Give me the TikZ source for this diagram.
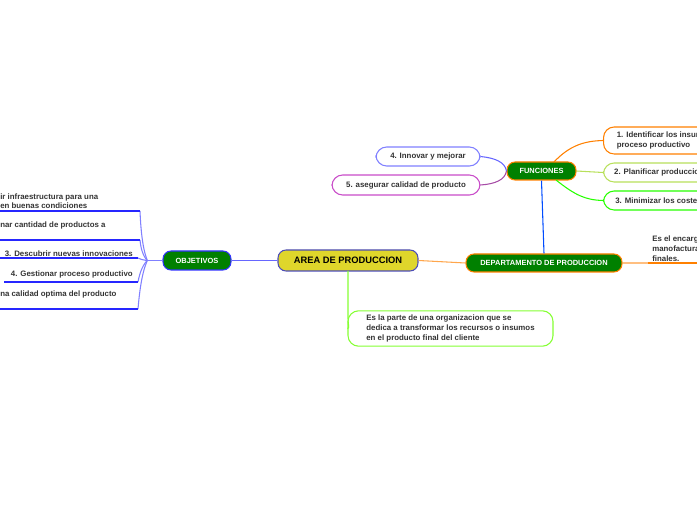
\documentclass[tikz,border=0pt]{standalone}
\usepackage{fontspec}
\setmainfont{Liberation Sans}
\begin{document}
\begin{tikzpicture}[x=0.75pt,y=-0.75pt,
  txt/.style={font=\bfseries\fontsize{5.9}{7.2}\selectfont,text=black!80},
  green/.style={rounded corners=6pt,fill=green!50!black,text=white,font=\bfseries\fontsize{5.6}{7}\selectfont,line width=0.8pt},
  wbox/.style={rounded corners=8pt,fill=white,line width=0.8pt},
  conn/.style={line width=0.8pt}]
\useasboundingbox (0,0) rectangle (697,520);
\begin{scope}
\clip (0,0) rectangle (697,520);
% central
\node[draw=blue!60!black!70,fill=yellow!85!black!95,rounded corners=6pt,minimum width=140*0.75pt,minimum height=21*0.75pt,font=\bfseries\fontsize{7}{8}\selectfont,line width=0.8pt] (area) at (348,260.5) {AREA DE PRODUCCION};
\node[green,draw=blue!80,minimum width=68*0.75pt,minimum height=19*0.75pt] (obj) at (197,260.5) {OBJETIVOS};
\node[green,draw=orange,minimum width=156*0.75pt,minimum height=18*0.75pt] (dep) at (544,263) {DEPARTAMENTO DE PRODUCCION};
\node[green,draw=orange,minimum width=69*0.75pt,minimum height=18*0.75pt] (fun) at (541.5,171) {FUNCIONES};
\draw[conn,blue!60] (area.west) -- (obj.east);
\draw[conn,orange!70] (area.east) -- (dep.west);
\draw[conn,blue!70!cyan] (fun.south) -- (dep.north);
% objetivos branches
\draw[conn,blue!50] (obj.west) -- (146,260.5);
\coordinate (o1) at (140,211); \coordinate (o2) at (140,240); \coordinate (o3) at (138,258);
\coordinate (o4) at (138,282); \coordinate (o5) at (138,309);
\foreach \c in {o1,o2,o3,o4,o5} \draw[conn,blue!50] (146,260.5) .. controls (150,260.5) and (142,260.5) .. (\c);
\draw[conn,blue!85] (0,211) -- (o1);
\draw[conn,blue!85] (0,240) -- (o2);
\draw[conn,blue!85] (0,258) -- (o3);
\draw[conn,blue!85] (4,282) -- (o4);
\draw[conn,blue!85] (0,309) -- (o5);
\node[txt,anchor=west,align=left,inner sep=0] (t1) at (0,201) {ir infraestructura para una\\ en buenas condiciones};
\node[txt,anchor=west,inner sep=0] (t2) at (0,225) {nar cantidad de productos a};
\node[txt,anchor=east,inner sep=0] (t3) at (133,254) {3. Descubrir nuevas innovaciones};
\node[txt,anchor=east,inner sep=0] (t4) at (133,274) {4. Gestionar proceso productivo};
\node[txt,anchor=west,inner sep=0] (t5) at (0,294) {na calidad optima del producto};
% descripcion
\node[wbox,draw=green!60!yellow!80,minimum width=205*0.75pt,minimum height=35*0.75pt,txt,align=left] (desc) at (450.5,328.5) {Es la parte de una organizacion que se\\dedica a transformar los recursos o insumos\\en el producto final del cliente\hspace*{40pt}};
\draw[conn,green!60!yellow!80] (348,271) -- (348,318) .. controls (348,326) and (350,328) .. (desc.west);
% departamento note
\coordinate (dn) at (648,263);
\draw[conn,orange!50] (dep.east) -- (dn);
\draw[conn,orange] (dn) -- (697,263);
\node[txt,anchor=north west,align=left,inner sep=0] (dt) at (652,236) {Es el encargado de\\manofacturar los productos\\finales.};
% funciones right
\node[wbox,draw=orange,anchor=west,minimum width=110*0.75pt,minimum height=27*0.75pt,txt,align=left,inner xsep=10pt] (f1) at (603,140.5) {1. Identificar los insumos del\\proceso productivo};
\node[wbox,draw=yellow!60!green!70,anchor=west,minimum width=110*0.75pt,minimum height=19*0.75pt,txt,inner xsep=8pt] (f2) at (603,172.5) {2. Planificar produccion};
\node[wbox,draw=green!80!lime,anchor=west,minimum width=110*0.75pt,minimum height=19*0.75pt,txt,inner xsep=8pt] (f3) at (603,200.5) {3. Minimizar los costes};
\draw[conn,orange] (554,162) .. controls (570,145) and (585,141) .. (f1.west);
\draw[conn,yellow!60!green!70] (fun.east) -- (f2.west);
\draw[conn,green!80!lime] (556,180) .. controls (575,195) and (585,200) .. (f3.west);
% funciones left
\node[wbox,draw=blue!50,minimum width=104*0.75pt,minimum height=19*0.75pt,txt] (f4) at (428,156.5) {4. Innovar y mejorar};
\node[wbox,draw=violet!60!magenta!70,minimum width=148*0.75pt,minimum height=20*0.75pt,txt] (f5) at (406,185) {5. asegurar calidad de producto};
\draw[conn,blue!60] (f4.east) .. controls (495,158) and (505,162) .. (fun.west);
\draw[conn,violet!70] (f5.east) .. controls (495,184) and (505,180) .. (fun.west);
\end{scope}
\end{tikzpicture}
\end{document}
